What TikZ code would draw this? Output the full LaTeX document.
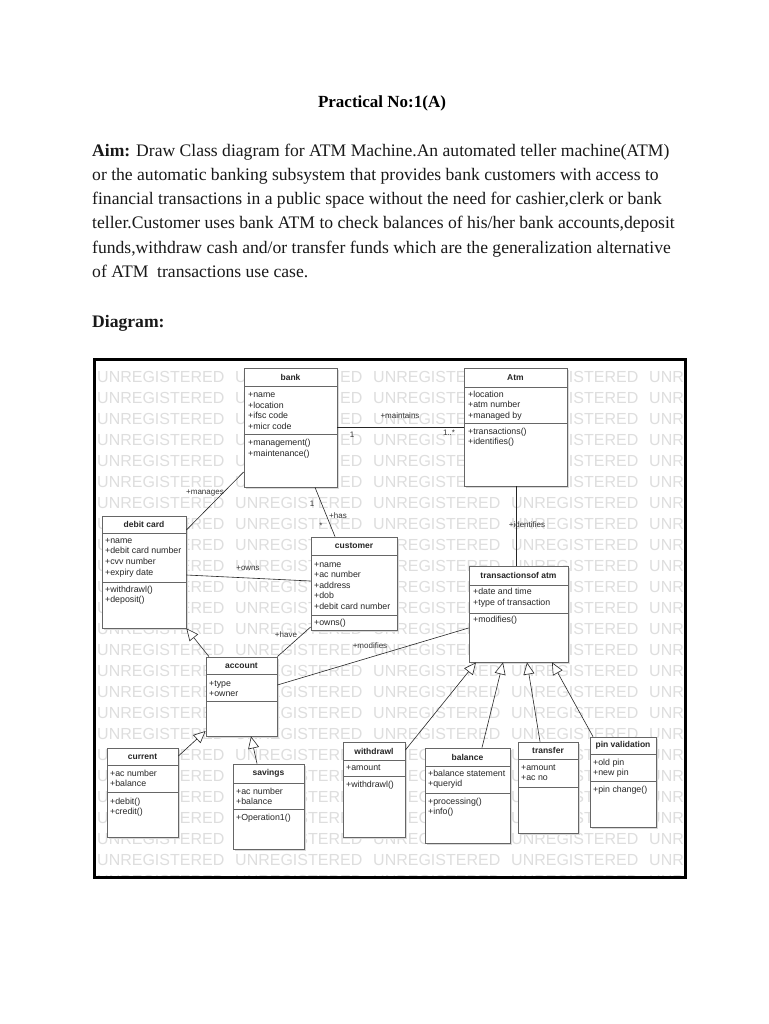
\documentclass[tikz,border=0pt]{standalone}
\usepackage{fontspec}
\setmainfont{Liberation Serif}
\newfontfamily\dsans{Liberation Sans}
\usetikzlibrary{arrows.meta,fit,calc}
\newcommand\umlcls[8]{%
  \fill[black!15] ({#2+2},{#3+2}) rectangle ({#4+2},{#5+2});
  \node[clsbox, fit={(#2,#3) (#4,#5)}] (#1) {};
  \draw[sepline] (#2,#6) -- (#4,#6);
  \draw[sepline] (#2,#7) -- (#4,#7);
  \node[ctitle] (#1-title) at ({(#2+#4)/2},{(#3+#6)/2}) {#8};
}
\newcommand\umllines[5]{%
  \foreach \t [count=\i] in {#5}
    \node[ctxt] (#1-\i) at (#2,{#3+(\i-1)*#4}) {\t};
}
\begin{document}
\begin{tikzpicture}[x=1pt,y=-1pt,
  clsbox/.style={draw=black!60, fill=white, line width=0.8pt, inner sep=0pt},
  ctitle/.style={font=\dsans\bfseries\fontsize{8.5}{10}\selectfont, inner sep=0pt, text=black!85},
  ctxt/.style={font=\dsans\fontsize{8.8}{10}\selectfont, inner sep=0pt, anchor=base west, text=black!85},
  sepline/.style={draw=black!60, line width=0.7pt},
  assoc/.style={draw=black!85, line width=0.6pt},
  gen/.style={draw=black!85, line width=0.6pt, -{Triangle[length=12pt,width=11pt,fill=white]}},
  lbl/.style={font=\dsans\fontsize{8}{10}\selectfont, inner sep=0pt, text=black!80},
  wm/.style={font=\dsans\fontsize{16}{16}\selectfont, text=black!13, inner sep=0pt, anchor=west},
  bodytxt/.style={font=\fontsize{17.6}{20}\selectfont, inner sep=0pt, anchor=base west, text=black!90},
]
\useasboundingbox (0,0) rectangle (768,1024);
\fill[white] (0,0) rectangle (768,1024);

% heading and aim
\node[anchor=base, inner sep=0pt, font=\bfseries\fontsize{17}{20}\selectfont] (title) at (382,108) {Practical No:1(A)};
\node[bodytxt] (aim1) at (92,157) {\textbf{Aim:} Draw Class diagram for ATM Machine.An automated teller machine(ATM)};
\node[bodytxt] (aim2) at (92,181) {or the automatic banking subsystem that provides bank customers with access to};
\node[bodytxt] (aim3) at (92,205) {financial transactions in a public space without the need for cashier,clerk or bank};
\node[bodytxt] (aim4) at (92,229) {teller.Customer uses bank ATM to check balances of his/her bank accounts,deposit};
\node[bodytxt] (aim5) at (92,253) {funds,withdraw cash and/or transfer funds which are the generalization alternative};
\node[bodytxt] (aim6) at (92,277) {of ATM\ \ transactions use case.};
\node[bodytxt] (diag) at (92,327) {\textbf{Diagram:}};

% watermark
\begin{scope}
\clip (95,360) rectangle (684,876);
\foreach \r in {0,...,24} \foreach \c in {0,...,4}
  \node[wm] (wm-\r-\c) at ({97+138*\c},{377+21*\r}) {UNREGISTERED};
\end{scope}
\node[draw, line width=3pt, inner sep=0pt, fit={(94,359) (685,877)}] (frame) {};

% classes
\umlcls{bank}{244}{368}{337}{487}{386}{434}{bank}
\umllines{bank-a}{248}{397.5}{10.7}{+name,+location,+ifsc code,+micr code}
\umllines{bank-m}{248}{445.5}{10.7}{+management(),+maintenance()}

\umlcls{atm}{464}{368}{567}{486}{387}{423}{Atm}
\umllines{atm-a}{468}{397}{10.6}{+location,+atm number,+managed by}
\umllines{atm-m}{468}{434}{10.7}{+transactions(),+identifies()}

\umlcls{debit}{102}{516}{186}{628}{533}{582}{debit card}
\umllines{debit-a}{105}{543}{10.9}{+name,+debit card number,+cvv number,+expiry date}
\umllines{debit-m}{105}{592}{10.9}{+withdrawl(),+deposit()}

\umlcls{cust}{311}{537}{397}{630}{555}{615}{customer}
\umllines{cust-a}{314}{567}{10.5}{+name,+ac number,+address,+dob,+debit card number}
\umllines{cust-m}{314}{625}{10.5}{+owns()}

\umlcls{trans}{469}{566}{568}{662}{585}{613}{transactionsof atm}
\umllines{trans-a}{473}{594}{11}{+date and time,+type of transaction}
\umllines{trans-m}{473}{622}{10.7}{+modifies()}

\umlcls{acct}{206}{657}{277}{736}{674}{701}{account}
\umllines{acct-a}{209}{686}{10.5}{+type,+owner}

\umlcls{curr}{107}{748}{178}{837}{765}{792}{current}
\umllines{curr-a}{110}{776}{10.7}{+ac number,+balance}
\umllines{curr-m}{110}{804}{10.5}{+debit(),+credit()}

\umlcls{sav}{233}{764}{304}{849}{783}{809}{savings}
\umllines{sav-a}{236}{794}{10.5}{+ac number,+balance}
\umllines{sav-m}{236}{820}{10.5}{+Operation1()}

\umlcls{wd}{343}{742}{405}{837}{760}{776}{withdrawl}
\umllines{wd-a}{346}{770}{10.5}{+amount}
\umllines{wd-m}{346}{787}{10.5}{+withdrawl()}

\umlcls{bal}{425}{748}{510}{843}{766}{793}{balance}
\umllines{bal-a}{428}{776}{10.7}{+balance statement,+queryid}
\umllines{bal-m}{428}{804}{10.7}{+processing(),+info()}

\umlcls{tr}{518}{742}{578}{833}{759}{787}{transfer}
\umllines{tr-a}{521}{770}{10.3}{+amount,+ac no}

\umlcls{pin}{590}{737}{656}{827}{754}{781}{pin validation}
\umllines{pin-a}{593}{765}{10.8}{+old pin,+new pin}
\umllines{pin-m}{593}{792}{10.5}{+pin change()}

% associations
\draw[assoc] (bank.east |- 0,427) -- (atm.west |- 0,427);
\draw[assoc] (bank.west |- 0,472) -- (debit.east |- 0,530);
\draw[assoc] (bank.south -| 315,0) -- (cust.north -| 335,0);
\draw[assoc] (debit.east |- 0,575) -- (cust.west |- 0,581);
\draw[assoc] (cust.west |- 0,627) -- (acct.north east);
\draw[assoc] (acct.east |- 0,685) -- (trans.west |- 0,628);
\draw[assoc] (atm.south -| 516,0) -- (trans.north -| 516,0);

% generalizations
\draw[gen] (acct.north -| 209,0) -- (debit.south east);
\draw[gen] (curr.east |- 0,756) -- (acct.west |- 0,731);
\draw[gen] (sav.north -| 257,0) -- (acct.south -| 251,0);
\draw[gen] (wd.east |- 0,750) -- (trans.south -| 476,0);
\draw[gen] (bal.north -| 482,0) -- (trans.south -| 503,0);
\draw[gen] (tr.north -| 540,0) -- (trans.south -| 527,0);
\draw[gen] (pin.north -| 593,0) -- (trans.south -| 552,0);

% labels
\node[lbl] (l-maint) at (400,416) {+maintains};
\node[lbl] (l-m1) at (352,435) {1};
\node[lbl] (l-m2) at (449,433) {1..*};
\node[lbl] (l-manages) at (205,493) {+manages};
\node[lbl] (l-h1) at (312,504) {1};
\node[lbl] (l-has) at (338,516) {+has};
\node[lbl] (l-hs) at (321,526) {*};
\node[lbl] (l-owns) at (248,568) {+owns};
\node[lbl] (l-have) at (286,635) {+have};
\node[lbl] (l-mod) at (370,646) {+modifies};
\node[lbl] (l-id) at (527,525) {+identifies};
\end{tikzpicture}
\end{document}
